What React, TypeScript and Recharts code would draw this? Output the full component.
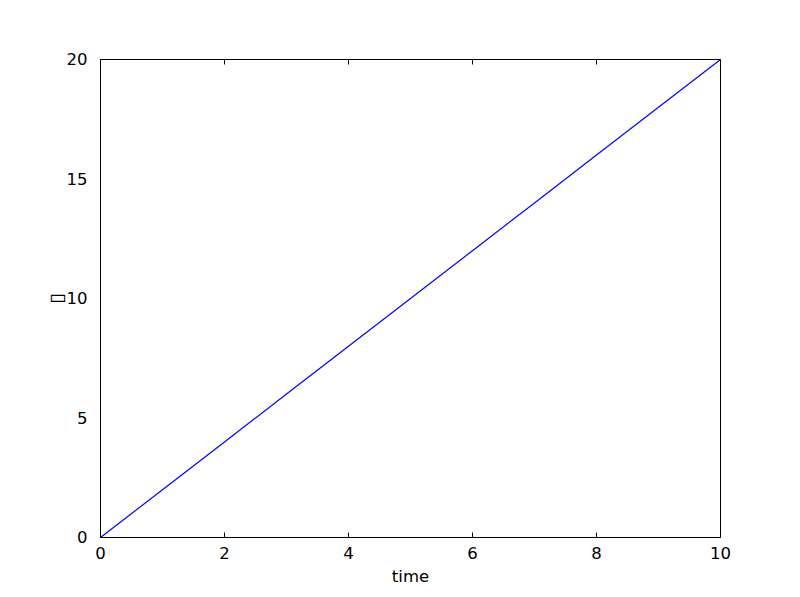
import { LineChart, Line, XAxis, YAxis, Label } from "recharts";

const times = [0, 1, 2, 3, 4, 5, 6, 7, 8, 9, 10];
const values = [0, 2, 4, 6, 8, 10, 12, 14, 16, 18, 20];
const xTicks = [0, 2, 4, 6, 8, 10];
const yTicks = [0, 5, 10, 15, 20];
const xLabel = "time";
const yLabel = "▯";

const data = times.map((t, i) => ({ time: t, value: values[i] }));

const FONT = "'DejaVu Sans', sans-serif";
const tickStyle = { fontSize: 16.5, fill: "#000", fontFamily: FONT };
const axisLine = { stroke: "#000", strokeWidth: 1 };
const tickLine = { stroke: "#000", strokeWidth: 1 };
const noLabel = () => <g />;

export default function App() {
  return (
    <div style={{ position: "absolute", left: 0, top: 0, background: "#fff" }}>
      <LineChart
        width={800}
        height={597}
        data={data}
        margin={{ top: 59.5, right: 79.5, bottom: 29.5, left: 60.5 }}
      >
        {/* bottom axis: line + labels */}
        <XAxis
          xAxisId="bottom"
          dataKey="time"
          type="number"
          domain={[0, 10]}
          ticks={xTicks}
          orientation="bottom"
          height={30}
          tick={tickStyle}
          tickLine={false}
          tickMargin={4}
          axisLine={axisLine}
        >
          <Label
            value={xLabel}
            position="bottom"
            offset={3}
            style={{ fontSize: 16.5, fill: "#000", fontFamily: FONT }}
          />
        </XAxis>
        {/* inward tick marks on all four sides */}
        <XAxis
          xAxisId="bottomIn"
          dataKey="time"
          type="number"
          domain={[0, 10]}
          ticks={xTicks}
          orientation="bottom"
          mirror
          height={6}
          tick={noLabel}
          tickSize={5}
          axisLine={false}
          tickLine={tickLine}
        />
        <XAxis
          xAxisId="top"
          dataKey="time"
          type="number"
          domain={[0, 10]}
          ticks={xTicks}
          orientation="top"
          mirror
          height={6}
          tick={noLabel}
          tickSize={5}
          axisLine={axisLine}
          tickLine={tickLine}
        />
        <YAxis
          yAxisId="left"
          type="number"
          domain={[0, 20]}
          ticks={yTicks}
          orientation="left"
          width={40}
          tick={tickStyle}
          tickLine={false}
          tickMargin={7}
          axisLine={axisLine}
        >
          <Label
            content={({ viewBox }: any) => {
              const cx = viewBox.x - 4.5;
              const cy = viewBox.y + viewBox.height / 2;
              return (
                <text
                  x={cx}
                  y={cy}
                  transform={`rotate(-90, ${cx}, ${cy})`}
                  textAnchor="middle"
                  dominantBaseline="central"
                  fontSize={19}
                  fontFamily={FONT}
                  fill="#000"
                >
                  {yLabel}
                </text>
              );
            }}
          />
        </YAxis>
        <YAxis
          yAxisId="leftIn"
          type="number"
          domain={[0, 20]}
          ticks={yTicks}
          orientation="left"
          mirror
          width={6}
          tick={noLabel}
          tickSize={5}
          axisLine={false}
          tickLine={tickLine}
        />
        <YAxis
          yAxisId="right"
          type="number"
          domain={[0, 20]}
          ticks={yTicks}
          orientation="right"
          mirror
          width={6}
          tick={noLabel}
          tickSize={5}
          axisLine={axisLine}
          tickLine={tickLine}
        />
        <Line
          xAxisId="bottom"
          yAxisId="left"
          type="linear"
          dataKey="value"
          stroke="#0000ff"
          strokeWidth={1.2}
          dot={false}
          isAnimationActive={false}
        />
      </LineChart>
    </div>
  );
}
